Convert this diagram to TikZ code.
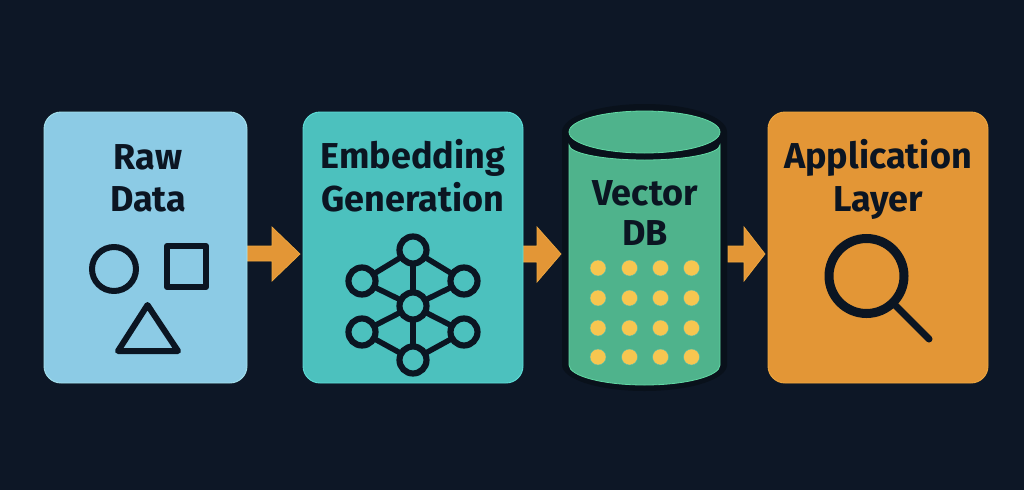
\documentclass[tikz,border=0pt]{standalone}
\usepackage{fontspec}
\setmainfont{Fira Sans}
\definecolor{bg}{HTML}{0D1726}
\definecolor{ink}{HTML}{0B1522}
\definecolor{blue}{HTML}{8CCBE5}
\definecolor{blueedge}{HTML}{A6E3EE}
\definecolor{teal}{HTML}{4CC1BE}
\definecolor{tealedge}{HTML}{5FE0DA}
\definecolor{green}{HTML}{4FB38C}
\definecolor{greenedge}{HTML}{62D9A4}
\definecolor{orange}{HTML}{E39636}
\definecolor{orangeedge}{HTML}{F0A83F}
\definecolor{dot}{HTML}{F7C650}
\tikzset{
  x=1pt,y=-1pt,
  panel/.style={draw=#1,line width=0.9pt,rounded corners=17pt},
  title/.style={font=\fontsize{36}{36}\selectfont\bfseries,text=ink,anchor=base,inner sep=0pt},
  icon/.style={draw=ink,line width=6pt,line join=round,line cap=round},
  arrowshape/.style={fill=orange,draw=orangeedge,line width=0.7pt,line join=miter},
  dotmark/.style={circle,fill=dot,draw=teal!70!green,line width=0.4pt,minimum size=16pt,inner sep=0pt},
  netnode/.style={circle,draw=ink,line width=6.2pt,fill=teal,minimum size=27pt,inner sep=0pt,outer sep=0pt},
}
\begin{document}
\begin{tikzpicture}
\useasboundingbox (0,0) rectangle (1024,490);
\fill[bg] (0,0) rectangle (1024,490);
% arrows
\path[arrowshape] (247,246) -- (272,246) -- (272,227) -- (300,254) -- (272,281) -- (272,261) -- (247,261) -- cycle;
\path[arrowshape] (522,246) -- (537,246) -- (537,227) -- (561,254) -- (537,282) -- (537,262) -- (522,262) -- cycle;
\path[arrowshape] (728,246) -- (744,246) -- (744,227) -- (765,254) -- (744,281) -- (744,262) -- (728,262) -- cycle;
% panels
\path[panel=blueedge,fill=blue] (44,112) rectangle (247,383);
\path[panel=tealedge,fill=teal] (303,112) rectangle (523,383);
\path[panel=orangeedge,fill=orange] (768,112) rectangle (988,383);
% cylinder
\fill[ink!80!black] (562,132) -- (562,365) arc[x radius=82.5,y radius=26,start angle=180,end angle=0] -- (727,132)
  arc[x radius=82.5,y radius=28,start angle=0,end angle=-180] -- cycle;
\path[draw=greenedge,line width=0.8pt,fill=green]
  (569,145) -- (569,365) arc[x radius=75.5,y radius=20,start angle=180,end angle=0] -- (720,145)
  arc[x radius=75.5,y radius=15,start angle=0,end angle=180] -- cycle;
\path[draw=greenedge,line width=0.8pt,fill=green] (644.5,132) ellipse[x radius=75.5,y radius=21];
% titles
\node[title] (t1a) at (148,169) {Raw};
\node[title] (t1b) at (148,211) {Data};
\node[title] (t2a) at (413,168) {Embedding};
\node[title] (t2b) at (413,211) {Generation};
\node[title] (t3a) at (645,205) {Vector};
\node[title] (t3b) at (645,245) {DB};
\node[title] (t4a) at (878,168) {Application};
\node[title] (t4b) at (878,211) {Layer};
% raw data icons
\draw[icon] (114,269) circle[radius=22];
\draw[icon] (167,246) rectangle (206,287);
\draw[icon] (147.5,305) -- (178,351) -- (118,351) -- cycle;
% network
\node[netnode] (n1) at (413,250) {};
\node[netnode] (n2) at (362,281) {};
\node[netnode] (n3) at (464,281) {};
\node[netnode] (n4) at (413,306) {};
\node[netnode] (n5) at (362,332) {};
\node[netnode] (n6) at (464,332) {};
\node[netnode] (n7) at (413,360) {};
\foreach \a/\b in {n1/n2,n1/n3,n1/n4,n4/n2,n4/n3,n4/n5,n4/n6,n4/n7,n7/n5,n7/n6}
  \draw[draw=ink,line width=5.5pt] (\a) -- (\b);
% dots
\foreach \x in {598,629.5,660.5,691.5}
  \foreach \y in {268,298,328,357}
    \node[dotmark] at (\x,\y) {};
% magnifier
\coordinate (hs) at (894,304);
\coordinate (he) at (929,339);
\draw[icon,line width=7pt] (hs) -- (he);
\draw[draw=ink,line width=9pt] (866.5,276) circle[radius=37.5];
\end{tikzpicture}
\end{document}
